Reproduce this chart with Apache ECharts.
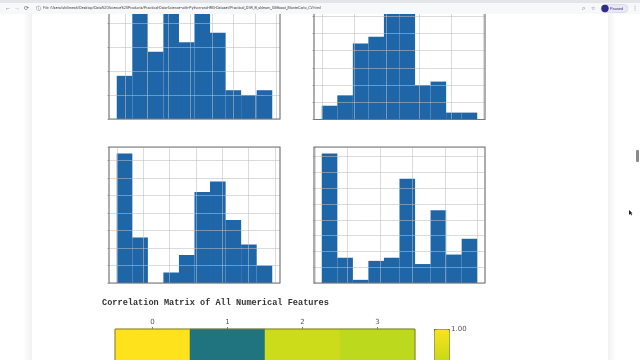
<!DOCTYPE html>
<html>
<head>
<meta charset="utf-8">
<style>html,body{margin:0;padding:0;background:#fff}#c{width:640px;height:360px}</style>
<script src="https://cdn.jsdelivr.net/npm/echarts@6/dist/echarts.min.js"></script>
</head>
<body>
<div id="c"></div>
<script>
const sepalLengthBins = [4.48,4.84,5.2,5.56,5.92,6.28,6.64,7.0,7.36,7.72];
const sepalLengthCounts = [9,23,14,27,16,26,18,6,5,6];
const sepalLengthTicks = [4.5,5,5.5,6,6.5,7,7.5,8];
const sepalWidthBins = [2.12,2.36,2.6,2.84,3.08,3.32,3.56,3.8,4.04,4.28];
const sepalWidthCounts = [4,7,22,24,37,31,10,11,2,2];
const sepalWidthTicks = [2,2.5,3,3.5,4,4.5];
const petalLengthBins = [1.295,1.885,2.475,3.065,3.655,4.245,4.835,5.425,6.015,6.605];
const petalLengthCounts = [37,13,0,3,8,26,29,18,11,5];
const petalLengthTicks = [1,2,3,4,5,6,7];
const petalWidthBins = [0.22,0.46,0.7,0.94,1.18,1.42,1.66,1.9,2.14,2.38];
const petalWidthCounts = [41,8,1,7,8,33,6,23,9,14];
const petalWidthTicks = [0,0.5,1,1.5,2,2.5];
const matrixLabels = ['0','1','2','3'];
const firstRowCorrelation = [1.00,-0.11,0.87,0.82];
const colorbarTicks = [1,0.75,0.5,0.25,0,-0.25];
const titleText = 'Correlation Matrix of All Numerical Features';
const urlText = '/Users/shilimesh/Desktop/Data%20Science%20Products/Practical-Data-Science-with-Python-and-IRIS-Dataset/Practical_DSR_B_sklearn_XGBoost_MonteCarlo_CV.html';

const panels = [
  {bins:sepalLengthBins,counts:sepalLengthCounts,ticks:sepalLengthTicks,xr:[4.12,8.08],ymax:28.35,grid:{left:109,width:171,top:-17,height:136}},
  {bins:sepalWidthBins,counts:sepalWidthCounts,ticks:sepalWidthTicks,xr:[1.88,4.52],ymax:38.85,grid:{left:314,width:171,top:-14.5,height:134}},
  {bins:petalLengthBins,counts:petalLengthCounts,ticks:petalLengthTicks,xr:[0.705,7.195],ymax:38.85,grid:{left:109,width:171,top:147,height:136}},
  {bins:petalWidthBins,counts:petalWidthCounts,ticks:petalWidthTicks,xr:[-0.02,2.62],ymax:43.05,grid:{left:314,width:171,top:147,height:136}}
];
const spine = '#777777', gridCol = 'rgba(190,190,190,0.55)', bar = '#1f66a8';
const grids=[],xAxes=[],yAxes=[],series=[];
panels.forEach((p,i)=>{
  grids.push(Object.assign({show:true,outerBoundsMode:'none',containLabel:false,borderColor:spine,borderWidth:1.2,backgroundColor:'transparent',z:4},p.grid));
  xAxes.push({type:'value',gridIndex:i,min:p.xr[0],max:p.xr[1],z:3,
    axisLine:{show:false},axisLabel:{show:false},
    axisTick:{show:false,customValues:p.ticks},
    splitLine:{show:true,lineStyle:{color:gridCol,width:1}}});
  yAxes.push({type:'value',gridIndex:i,min:0,max:p.ymax,interval:5,z:3,
    axisLine:{show:false},axisLabel:{show:false},
    axisTick:{show:true,length:1.5,lineStyle:{color:'#aaa'}},
    splitLine:{show:true,lineStyle:{color:gridCol,width:1}}});
  series.push({type:'bar',xAxisIndex:i,yAxisIndex:i,silent:true,barWidth:15.6,z:2,
    itemStyle:{color:bar},data:p.bins.map((b,k)=>[b,p.counts[k]])});
});
// heatmap
grids.push({show:true,outerBoundsMode:'none',left:115,width:300,top:329,height:300,borderColor:'#7d7a32',borderWidth:1,backgroundColor:'transparent',z:4});
xAxes.push({type:'category',gridIndex:4,position:'top',data:matrixLabels,
  axisLine:{show:false},splitLine:{show:false},splitArea:{show:false},
  axisTick:{show:true,alignWithLabel:true,length:2,lineStyle:{color:'#777'}},
  axisLabel:{color:'#555',fontSize:7,fontFamily:'DejaVu Sans',margin:3}});
yAxes.push({type:'category',gridIndex:4,inverse:true,data:matrixLabels,
  axisLine:{show:false},axisTick:{show:false},axisLabel:{show:false},splitLine:{show:false}});
series.push({type:'heatmap',xAxisIndex:4,yAxisIndex:4,silent:true,
  data:firstRowCorrelation.map((v,k)=>[k,0,v])});
// colorbar axis
grids.push({outerBoundsMode:'none',left:434,width:15,top:329,height:300});
xAxes.push({type:'value',gridIndex:5,show:false});
yAxes.push({type:'value',gridIndex:5,position:'right',min:-0.42,max:1,
  axisLine:{show:false},splitLine:{show:false},
  axisTick:{show:true,length:3,lineStyle:{color:'#666'},customValues:colorbarTicks},
  axisLabel:{show:true,color:'#555',fontSize:7,fontFamily:'DejaVu Sans',margin:2,
    customValues:colorbarTicks,formatter:v=>v.toFixed(2)}});

const chromeText=(x,y,t,size,col,extra)=>({type:'text',x,y,z:102,silent:true,
  style:Object.assign({text:t,fontSize:size,fill:col,fontFamily:'Roboto',verticalAlign:'middle'},extra||{})});
const shade=(x,w,dir)=>({type:'rect',x,y:0,z:-1,silent:true,shape:{width:w,height:360},
  style:{fill:{type:'linear',x:0,y:0,x2:1,y2:0,colorStops:dir>0?
    [{offset:0,color:'#ffffff'},{offset:1,color:'#f1f1f1'}]:
    [{offset:0,color:'#f1f1f1'},{offset:1,color:'#ffffff'}]}}});

const chart = echarts.init(document.getElementById('c'),null,{renderer:'canvas'});
chart.setOption({
  animation:false,backgroundColor:'#fff',
  title:{text:titleText,left:102,top:298,padding:0,
    textStyle:{fontFamily:'Liberation Mono',fontSize:8.6,fontWeight:'bold',color:'#333'}},
  grid:grids,xAxis:xAxes,yAxis:yAxes,series,
  visualMap:{type:'continuous',seriesIndex:4,min:-0.42,max:1,left:434,top:329,padding:0,
    itemWidth:15,itemHeight:300,calculable:false,realtime:false,text:null,showLabel:false,
    borderColor:'#7d7a32',borderWidth:1,z:5,
    textStyle:{fontSize:0},
    inRange:{color:['#440154','#31558c','#1f757f','#1f8f80','#28a87a','#4cbf66','#78cf48','#a0d62c','#c2d91a','#fde21c']}},
  graphic:{elements:[
    shade(23,9,1),shade(608,8,-1),
    {type:'rect',x:0,y:0,z:100,silent:true,shape:{width:640,height:14},style:{fill:'#f7f8fa'}},
    {type:'rect',x:0,y:0,z:101,silent:true,shape:{width:640,height:3},style:{fill:'#e3e5e9'}},
    chromeText(5,8.5,'←',6,'#555'),chromeText(14,8.5,'→',6,'#aaa'),chromeText(24,8.5,'⟳',6,'#555',{fontFamily:'DejaVu Sans'}),
    chromeText(36,8.5,'ⓘ',4.5,'#555',{fontFamily:'DejaVu Sans'}),
    chromeText(38,8.5,'',4,'#555'),
    chromeText(43,8.5,'File',3.7,'#555'),
    chromeText(50,8.5,urlText,3.65,'#444'),
    chromeText(582,8.5,'⌕',6,'#666',{fontFamily:'DejaVu Sans'}),
    chromeText(591,8.5,'☆',5,'#666',{fontFamily:'DejaVu Sans'}),
    {type:'rect',x:601,y:4.5,z:101,silent:true,shape:{width:27,height:8,r:4},style:{fill:'#e9e9f6',stroke:'#c9c9dd',lineWidth:0.5}},
    {type:'circle',x:605,y:8.5,z:102,silent:true,shape:{r:3.7},style:{fill:'#2f2d86'}},
    chromeText(610,8.5,'Paused',4,'#3c3c7a'),
    chromeText(632,8.5,'⋮',6,'#666',{fontFamily:'DejaVu Sans'}),
    {type:'rect',x:636,y:150,z:101,silent:true,shape:{width:3,height:12,r:1},style:{fill:'#8a8a8a'}},
    {type:'polygon',z:103,silent:true,shape:{points:[[629,210],[629,215],[630.3,213.8],[631.3,215.5],[632,215],[631.2,213.4],[632.5,213.2]]},style:{fill:'#222'}}
  ]}
});
</script>
</body>
</html>
